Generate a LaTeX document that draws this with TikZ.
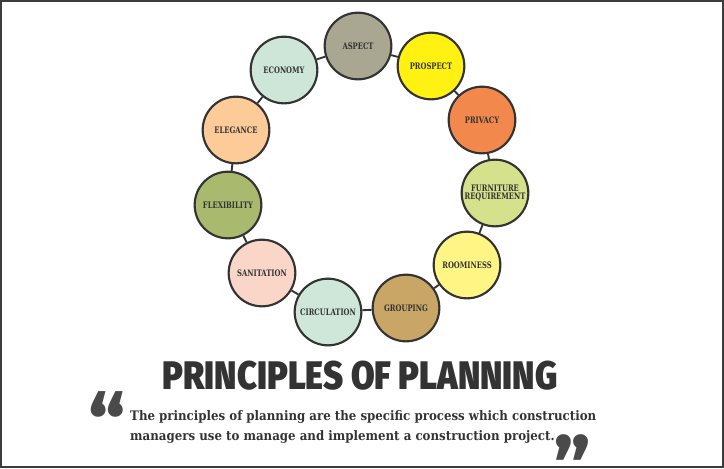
\documentclass[tikz,border=0pt]{standalone}
\usepackage{fontspec}
\usepackage{tikz}
\newfontfamily\labelfont{DejaVu Serif Condensed}[FakeStretch=0.85]
\newfontfamily\bodyfont{DejaVu Serif Condensed}
\newfontfamily\titlefont{Fira Sans Black}[FakeStretch=0.86]
\newfontfamily\quotefont{Fira Sans Black}

\definecolor{ink}{HTML}{333333}
\definecolor{framegray}{HTML}{3C3C3C}
\definecolor{quotegray}{HTML}{4A4A4A}
\definecolor{aspectcol}{HTML}{A9A791}
\definecolor{prospectcol}{HTML}{FFF212}
\definecolor{privacycol}{HTML}{F2884B}
\definecolor{furniturecol}{HTML}{D5E18B}
\definecolor{roominesscol}{HTML}{FEF584}
\definecolor{groupingcol}{HTML}{C9A566}
\definecolor{circulationcol}{HTML}{CFE7D9}
\definecolor{sanitationcol}{HTML}{F9D6C8}
\definecolor{flexibilitycol}{HTML}{A9BA6F}
\definecolor{elegancecol}{HTML}{FCCB98}
\definecolor{economycol}{HTML}{CEE6D8}

\newcommand{\lowquote}[1]{\raisebox{-0.455em}[0.32em][0pt]{#1}}

\tikzset{
  ring/.style={circle,draw=ink,line width=1.8pt,minimum size=2.0cm,inner sep=0pt,
    text=ink,align=center,font=\labelfont\bfseries\fontsize{7.6}{8.4}\selectfont},
  link/.style={draw=ink,line width=1.6pt},
  bodytext/.style={anchor=base west,text=ink,inner sep=0pt,
    font=\bodyfont\bfseries\fontsize{11.2}{14}\selectfont},
  quotemark/.style={anchor=south,text=quotegray,inner sep=0pt,
    font=\quotefont\fontsize{66}{66}\selectfont},
}

\begin{document}
\begin{tikzpicture}[x=0.03cm,y=-0.03cm]
\useasboundingbox (0,0) rectangle (724,468);

% objects at depth 60:
\path (358,46) node[ring,fill=aspectcol] (aspect) {ASPECT};
\path (431,66) node[ring,fill=prospectcol] (prospect) {PROSPECT};
\path (482,120) node[ring,fill=privacycol] (privacy) {PRIVACY};
\path (495,193) node[ring,fill=furniturecol] (furniture) {FURNITURE\\[-1pt]REQUIREMENT};
\path (467,265) node[ring,fill=roominesscol] (roominess) {ROOMINESS};
\path (406,308) node[ring,fill=groupingcol] (grouping) {GROUPING};
\path (328,312) node[ring,fill=circulationcol] (circulation) {CIRCULATION};
\path (262,273) node[ring,fill=sanitationcol] (sanitation) {SANITATION};
\path (228,205) node[ring,fill=flexibilitycol] (flexibility) {FLEXIBILITY};
\path (236,130) node[ring,fill=elegancecol] (elegance) {ELEGANCE};
\path (284,70) node[ring,fill=economycol] (economy) {ECONOMY};

% objects at depth 50:
\draw[link] (aspect) -- (prospect);
\draw[link] (prospect) -- (privacy);
\draw[link] (privacy) -- (furniture);
\draw[link] (furniture) -- (roominess);
\draw[link] (roominess) -- (grouping);
\draw[link] (grouping) -- (circulation);
\draw[link] (circulation) -- (sanitation);
\draw[link] (sanitation) -- (flexibility);
\draw[link] (flexibility) -- (elegance);
\draw[link] (elegance) -- (economy);
\draw[link] (economy) -- (aspect);

% objects at depth 40:
\path (360,376) node[text=ink,inner sep=0pt,font=\titlefont\fontsize{34}{36}\selectfont] (title) {PRINCIPLES OF PLANNING};
\path (107,417) node[quotemark] (openquote) {\lowquote{“}};
\path (573,460) node[quotemark] (closequote) {\lowquote{”}};
\path (130,420) node[bodytext] (lineone) {The principles of planning are the specific process which construction};
\path (130,440) node[bodytext] (linetwo) {managers use to manage and implement a construction project.};

% frame:
\draw[framegray,line width=2pt] (1.2,1.2) rectangle (722.8,466.8);

\end{tikzpicture}
\end{document}
